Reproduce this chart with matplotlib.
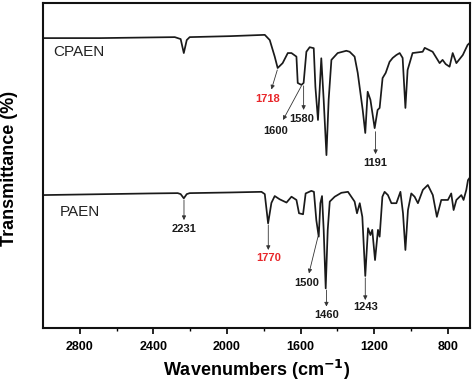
import matplotlib
matplotlib.use("Agg")
import matplotlib.pyplot as plt

plt.rcParams['font.family'] = ['Liberation Sans', 'DejaVu Sans']

# CPAEN spectrum (wavenumber cm-1, transmittance a.u.)
cpaen_wn = [3001, 2691, 2420, 2284, 2252, 2235, 2219, 2203, 1985, 1795, 1768, 1741, 1725,
            1698, 1670, 1650, 1623, 1616, 1596, 1584, 1569, 1551, 1529, 1520, 1506, 1497,
            1488, 1475, 1460, 1448, 1433, 1399, 1352, 1334, 1307, 1290, 1263, 1249, 1236,
            1221, 1198, 1182, 1171, 1155, 1138, 1117, 1100, 1080, 1062, 1046, 1031, 1019,
            992, 937, 926, 883, 845, 829, 812, 791, 774, 754, 719, 693, 682]
cpaen_t = [89.2, 89.2, 89.4, 89.5, 88.9, 84.6, 88.6, 89.5, 89.8, 90.2, 88.6, 83.5, 80.0,
           81.5, 84.6, 84.6, 83.5, 75.4, 74.8, 75.4, 85.0, 86.4, 86.1, 74.2, 64.0, 73.2,
           83.0, 70.2, 53.2, 70.2, 82.5, 84.6, 85.3, 85.0, 83.5, 78.5, 67.1, 60.0, 72.7,
           70.2, 61.5, 67.1, 67.7, 76.9, 78.5, 81.9, 83.1, 84.0, 84.6, 83.1, 67.7, 79.4,
           84.6, 85.0, 86.2, 85.0, 81.5, 82.5, 81.2, 80.4, 84.6, 81.5, 84.0, 87.1, 87.7]

# PAEN spectrum
paen_wn = [3001, 2420, 2268, 2252, 2235, 2219, 2203, 1985, 1813, 1795, 1777, 1759, 1741,
           1714, 1677, 1650, 1623, 1609, 1587, 1573, 1542, 1528, 1515, 1502, 1493, 1484,
           1475, 1464, 1453, 1442, 1415, 1379, 1343, 1307, 1294, 1279, 1265, 1249, 1234,
           1221, 1211, 1196, 1180, 1171, 1156, 1144, 1126, 1107, 1080, 1058, 1044, 1031,
           1017, 999, 981, 963, 936, 909, 882, 860, 836, 800, 782, 769, 754, 727, 715,
           700, 691, 682]
paen_t = [40.9, 41.4, 41.5, 41.2, 39.9, 41.2, 41.5, 41.7, 41.9, 41.2, 32.2, 38.5, 40.6,
          39.6, 38.6, 40.4, 39.4, 35.3, 35.0, 41.4, 42.2, 41.9, 33.2, 28.1, 38.4, 40.6,
          30.2, 12.2, 30.2, 38.9, 40.4, 41.6, 41.9, 38.9, 35.3, 38.4, 34.2, 16.0, 30.7,
          28.6, 30.2, 20.9, 30.2, 28.1, 40.4, 41.9, 40.9, 38.4, 38.4, 41.9, 35.3, 24.0,
          36.3, 41.4, 40.4, 38.4, 42.5, 44.0, 40.9, 34.2, 39.4, 39.4, 41.4, 36.3, 39.4,
          40.9, 39.4, 42.5, 45.5, 46.2]

# annotations: label, color, text position, arrow start (tail), arrow end (head)
ann_labels = ['1718', '1600', '1580', '1191', '2231', '1770', '1500', '1460', '1243']
ann_colors = ['#e8262a', '#1a1a1a', '#1a1a1a', '#1a1a1a', '#1a1a1a', '#e8262a',
              '#1a1a1a', '#1a1a1a', '#1a1a1a']
ann_text_xy = [(1779, 70.5), (1736, 60.6), (1592, 64.3), (1194, 50.9), (2234, 30.4),
               (1776, 21.4), (1566, 13.9), (1460, 3.9), (1249, 6.4)]
ann_tail = [(1727, 79.4), (1596, 74.5), (1584, 74.5), (1193, 60.4), (2234, 39.4),
            (1776, 31.7), (1506, 28.1), (1460, 11.7), (1249, 15.4)]
ann_head = [(1759, 73.4), (1696, 64.0), (1584, 67.1), (1193, 53.5), (2234, 33.2),
            (1776, 24.0), (1555, 16.8), (1460, 6.6), (1249, 8.6)]

series_names = ['CPAEN', 'PAEN']
series_label_xy = [(2947, 84.9), (2909, 35.8)]

fig = plt.figure(figsize=(4.74, 3.82), dpi=100)
ax = fig.add_axes([43 / 474, 1 - 328 / 382, 427 / 474, 325 / 382])

line_color = '#1a1a1a'
ax.plot(cpaen_wn, cpaen_t, color=line_color, lw=1.25)
ax.plot(paen_wn, paen_t, color=line_color, lw=1.25)

for name, (x, y) in zip(series_names, series_label_xy):
    ax.text(x, y, name, fontsize=11, color='#222222', ha='left', va='center')

for lab, col, txy, tail, head in zip(ann_labels, ann_colors, ann_text_xy, ann_tail, ann_head):
    ax.annotate('', xy=head, xytext=tail,
                arrowprops=dict(arrowstyle='-|>', lw=0.6, color='#333333',
                                mutation_scale=6, shrinkA=0, shrinkB=0))
    ax.text(txy[0], txy[1], lab, fontsize=8, fontweight='bold', color=col,
            ha='center', va='center')

ax.set_xlim(3000, 680)
ax.set_ylim(0, 100)
ax.set_xticks([2800, 2400, 2000, 1600, 1200, 800])
ax.set_xticks([2600, 2200, 1800, 1400, 1000], minor=True)
ax.set_yticks([])
ax.tick_params(axis='x', which='major', direction='out', length=4, width=1.2,
               labelsize=9, pad=5)
ax.tick_params(axis='x', which='minor', direction='out', length=2.5, width=1.0)
for lab in ax.get_xticklabels():
    lab.set_fontweight('bold')
for sp in ax.spines.values():
    sp.set_linewidth(1.5)
    sp.set_color('#111111')

ax.set_xlabel('Wavenumbers (cm$^{\\mathbf{-1}}$)', fontsize=13, fontweight='bold')
ax.xaxis.label.set_va('center')
ax.xaxis.set_label_coords(0.5, -0.128)
ax.set_ylabel('Transmittance (%)', fontsize=13, fontweight='bold')
ax.yaxis.label.set_va('center')
ax.yaxis.set_label_coords(-0.079, 0.491)

fig.savefig('out.png', dpi=100)
